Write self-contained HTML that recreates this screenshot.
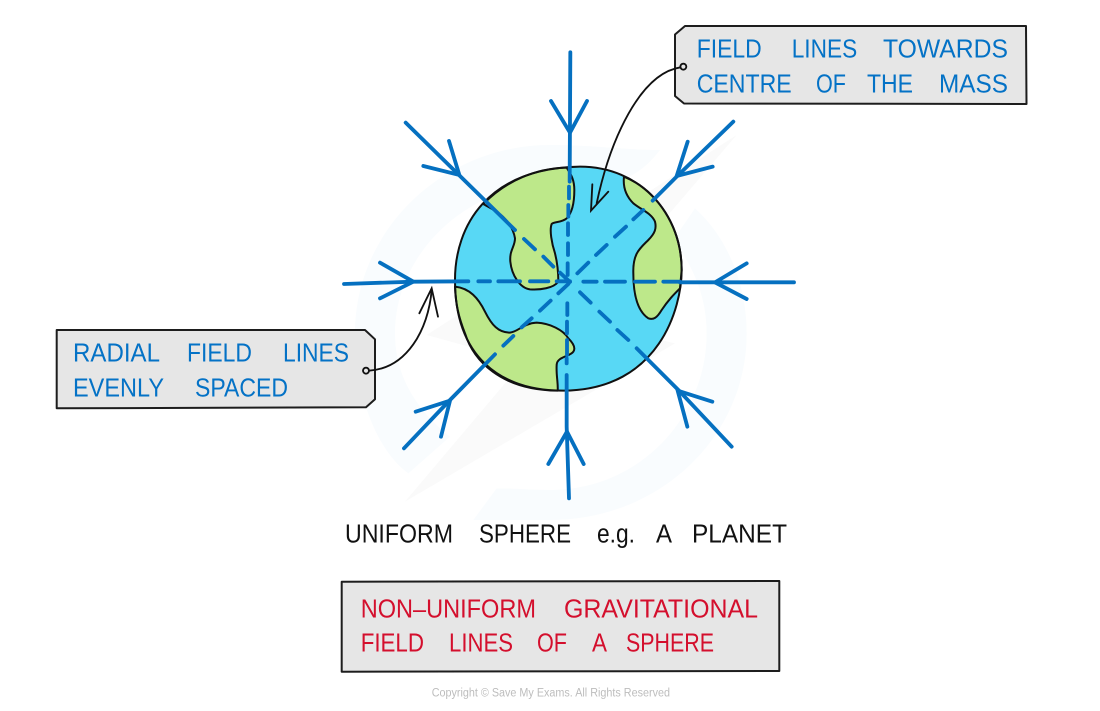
<!DOCTYPE html>
<html lang="en">
<head>
<meta charset="utf-8">
<title>Non-uniform gravitational field lines of a sphere</title>
<style>
html,body{margin:0;padding:0;background:#fff;width:1100px;height:711px;overflow:hidden}
svg{display:block}
text{font-family:"Liberation Sans",sans-serif;font-size:25.5px}
.b{fill:#0472c6}
.r{fill:#d40f2d}
.k{fill:#111}
</style>
</head>
<body>
<svg width="1100" height="711" viewBox="0 0 1100 711" xmlns="http://www.w3.org/2000/svg">
<rect width="1100" height="711" fill="#fff"/>

<g transform="translate(340 40) scale(.33333)">
  <!-- watermark -->
  <path d="M630 315C310 315 45 570 45 880C45 1080 120 1240 205 1300L330 1190C230 1110 165 1010 165 880C165 640 380 435 640 430C760 430 860 460 960 330C860 330 760 315 630 315Z" fill="#f9fcfe"/>
  <path d="M1065 505C1160 590 1220 730 1220 880C1220 1190 960 1440 630 1440L400 1440L470 1345C520 1345 570 1350 630 1350C900 1350 1100 1130 1100 880C1100 770 1060 680 1000 600Z" fill="#f9fcfe"/>
  <path d="M1190 285L260 885L550 965L195 1385L1005 910L715 840Z" fill="#fafafa"/>

  <!-- sphere -->
  <path d="M345 720C345 560 440 385 720 380C900 380 1025 520 1025 690C1025 800 960 1050 670 1052C480 1052 345 950 345 720Z" fill="#58d8f5"/>
  <!-- land -->
  <g fill="#bde88a" stroke="#111" stroke-width="6" stroke-linejoin="round">
    <path d="M430 492C500 420 590 385 680 383C690 400 703 415 703 450C703 490 695 520 680 535C665 548 640 545 635 552C628 570 635 610 645 640C655 680 655 710 655 725C640 745 600 750 570 748C540 745 515 705 511 665C508 630 525 620 525 595C520 565 500 535 470 515C450 503 440 498 430 492Z"/>
    <path d="M852 410C950 450 1025 560 1025 690L1020 745C1000 765 985 780 965 810C950 835 940 840 925 835C895 815 880 770 880 700C878 640 900 625 925 600C945 580 950 565 945 545C935 520 905 510 880 490C860 470 848 445 852 410Z"/>
    <path d="M345 740C390 745 415 775 435 815C455 855 475 878 510 878C535 875 550 850 590 848C630 850 670 870 685 895C700 910 707 925 700 935C690 950 650 950 650 975C648 1005 655 1030 653 1052C480 1050 400 960 375 880C355 830 347 790 345 740Z"/>
  </g>
  <path d="M345 720C345 560 440 385 720 380C900 380 1025 520 1025 690C1025 800 960 1050 670 1052C480 1052 345 950 345 720Z" fill="none" stroke="#111" stroke-width="6"/>

  <!-- field lines -->
  <g fill="none" stroke="#0570c0" stroke-width="11.500" stroke-linecap="round" stroke-linejoin="miter">
    <path d="M691 37L689 425"/>
    <path d="M680 1005L680 1160L687 1375"/>
    <path d="M12 732L220 725L385 724"/>
    <path d="M1020 727L1362 727"/>
    <path d="M197 248L360 408L525 570"/>
    <path d="M1180 245L1010 410L938 482"/>
    <path d="M192 1225L330 1080L465 943"/>
    <path d="M1175 1220L1015 1050L890 925"/>
    <!-- dashes -->
    <path d="M687 440V475M685 495V530M684 550V585M684 610V645M683 670V705M682 790V825M681 845V880M681 900V945M680 955V970" />
    <path d="M415 724H450M475 724H540M570 724H625M650 724H690M730 725H770M795 725H855M885 725H945M970 725H1020"/>
    <path d="M552 597L585 628M610 650L640 680M660 698L690 726"/>
    <path d="M910 510L880 538M858 560L825 590M800 615L768 645M745 668L712 700"/>
    <path d="M685 732L655 760M632 782L600 812M575 835L545 862M520 888L490 917"/>
    <path d="M720 757L752 788M778 815L810 845M832 870L865 900"/>
    <!-- arrowheads -->
    <path d="M633 183L690 278L741 183"/>
    <path d="M625 1272L681 1175L731 1272"/>
    <path d="M120 668L220 725L120 775"/>
    <path d="M1220 670L1125 727L1220 777"/>
    <path d="M327 303L358 405L250 378"/>
    <path d="M1043 305L1010 408L1118 380"/>
    <path d="M227 1115L330 1082L303 1190"/>
    <path d="M1117 1085L1013 1052L1042 1160"/>
  </g>
</g>

<!-- label boxes -->
<g fill="#e6e6e6" stroke="#1d1d1d" stroke-width="2" stroke-linejoin="round">
  <path d="M685 26L1026 26L1026.500 104L684 103.500L675 96L675 34.500Z"/>
  <path d="M56.700 330L365 330L375 339.300L375 399.300L366 407.300L56.700 408.300Z"/>
  <path d="M341.700 581.700L779.300 581L779.300 671L341.700 671.700Z"/>
</g>

<!-- callouts -->
<g transform="translate(340 40) scale(.33333)" fill="none" stroke="#111" stroke-linecap="round">
  <path d="M1022 82C900 100 810 300 770 490" stroke-width="5.500"/>
  <path d="M757 433L753 512L805 455" stroke-width="5.500"/>
  <circle cx="1030" cy="80" r="9" stroke-width="5.500"/>
  <path d="M87 992C200 985 265 870 275 750" stroke-width="5.500"/>
  <path d="M238 820L275 745L294 830" stroke-width="5.500"/>
  <circle cx="78" cy="992" r="9" stroke-width="5.500"/>
</g>

<!-- text -->
<g class="b">
  <text x="696.700" y="57.700" textLength="65" lengthAdjust="spacingAndGlyphs">FIELD</text>
  <text x="791.700" y="57.700" textLength="65.500" lengthAdjust="spacingAndGlyphs">LINES</text>
  <text x="883" y="57.700" textLength="125" lengthAdjust="spacingAndGlyphs">TOWARDS</text>
  <text x="696.700" y="92.300" textLength="95" lengthAdjust="spacingAndGlyphs">CENTRE</text>
  <text x="816" y="92.300" textLength="30" lengthAdjust="spacingAndGlyphs">OF</text>
  <text x="867" y="92.300" textLength="46" lengthAdjust="spacingAndGlyphs">THE</text>
  <text x="939" y="92.300" textLength="69" lengthAdjust="spacingAndGlyphs">MASS</text>

  <text x="73" y="361.700" textLength="87" lengthAdjust="spacingAndGlyphs">RADIAL</text>
  <text x="187" y="361.700" textLength="65" lengthAdjust="spacingAndGlyphs">FIELD</text>
  <text x="283" y="361.700" textLength="66" lengthAdjust="spacingAndGlyphs">LINES</text>
  <text x="73" y="396.700" textLength="91" lengthAdjust="spacingAndGlyphs">EVENLY</text>
  <text x="195" y="396.700" textLength="93" lengthAdjust="spacingAndGlyphs">SPACED</text>
</g>
<g class="k">
  <text x="345" y="542.300" textLength="108" lengthAdjust="spacingAndGlyphs">UNIFORM</text>
  <text x="479" y="542.300" textLength="92" lengthAdjust="spacingAndGlyphs">SPHERE</text>
  <text x="597" y="542.300" textLength="38" lengthAdjust="spacingAndGlyphs">e.g.</text>
  <text x="656" y="542.300" textLength="16" lengthAdjust="spacingAndGlyphs">A</text>
  <text x="692" y="542.300" textLength="95" lengthAdjust="spacingAndGlyphs">PLANET</text>
</g>
<g class="r">
  <text x="360.700" y="617.300" textLength="175.300" lengthAdjust="spacingAndGlyphs">NON–UNIFORM</text>
  <text x="564" y="617.300" textLength="194" lengthAdjust="spacingAndGlyphs">GRAVITATIONAL</text>
  <text x="360.700" y="651.700" textLength="63.300" lengthAdjust="spacingAndGlyphs">FIELD</text>
  <text x="449" y="651.700" textLength="64" lengthAdjust="spacingAndGlyphs">LINES</text>
  <text x="537" y="651.700" textLength="30" lengthAdjust="spacingAndGlyphs">OF</text>
  <text x="592" y="651.700" textLength="15" lengthAdjust="spacingAndGlyphs">A</text>
  <text x="626" y="651.700" textLength="88" lengthAdjust="spacingAndGlyphs">SPHERE</text>
</g>
<text x="431.700" y="696.500" textLength="238.300" lengthAdjust="spacingAndGlyphs" style="font-size:11.500px" fill="#bdbdbd">Copyright © Save My Exams. All Rights Reserved</text>
</svg>
</body>
</html>
